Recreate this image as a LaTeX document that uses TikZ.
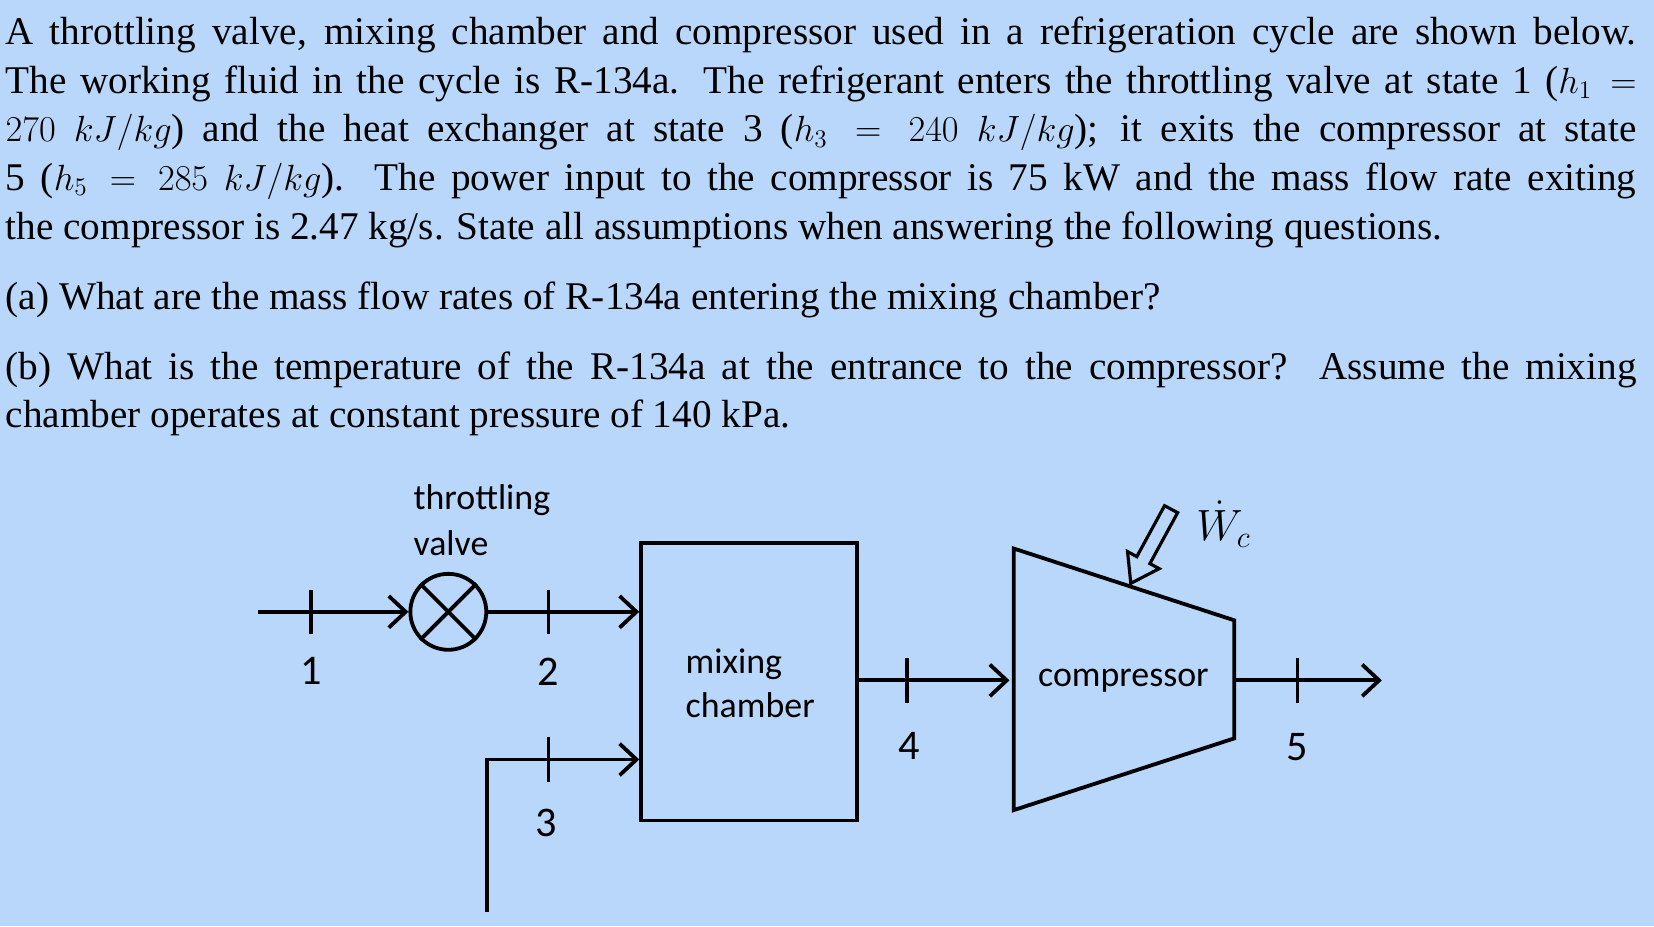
\documentclass[tikz,border=0pt]{standalone}
\usepackage{fontspec}
\setmainfont{Liberation Serif}
\newfontfamily\diagfont{Carlito}
\usetikzlibrary{arrows.meta}
\definecolor{bg}{RGB}{185,215,250}
\begin{document}
\begin{tikzpicture}[x=0.5pt,y=-0.5pt,
  ln/.style={line width=1.8pt},
  arr/.style={ln,-{Straight Barb[length=8pt,width=15pt,line width=1.8pt]}},
  lab/.style={font=\diagfont\fontsize{17}{20}\selectfont},
  num/.style={font=\diagfont\fontsize{20}{22}\selectfont},
  para/.style={anchor=north west,inner sep=0pt,text width=773pt,align=justify,font=\fontsize{18.6}{23}\selectfont}]
\fill[bg] (0,0) rectangle (1568,878);
\useasboundingbox (0,0) rectangle (1568,878);
\node[para] (p1) at (5,16) {A throttling valve, mixing chamber and compressor used in a refrigeration cycle are shown below.\linebreak The working fluid in the cycle is R-134a. The refrigerant enters the throttling valve at state 1 ($h_1 =$\linebreak $270\ kJ/kg$) and the heat exchanger at state 3 ($h_3 = 240\ kJ/kg$); it exits the compressor at state\linebreak 5 ($h_5 = 285\ kJ/kg$). The power input to the compressor is 75 kW and the mass flow rate exiting\linebreak the compressor is 2.47 kg/s. State all assumptions when answering the following questions.};
\node[para] (pa) at (5,267) {(a) What are the mass flow rates of R-134a entering the mixing chamber?};
\node[para] (pb) at (5,333) {(b) What is the temperature of the R-134a at the entrance to the compressor? Assume the mixing\linebreak chamber operates at constant pressure of 140 kPa.};
% valve
\node[draw,ln,circle,minimum size=36pt,inner sep=0pt] (v) at (425,580) {};
\draw[ln] (v.north east) -- (v.south west) (v.north west) -- (v.south east);
\node[lab,anchor=west,align=left] (vl) at (385,493) {throttling\\[2pt]valve};
% box
\node[draw,ln,minimum width=102.5pt,minimum height=131.5pt,anchor=north west] (mc) at (606,513) {};
\node[lab,anchor=west,align=left] (mct) at (643,648) {mixing\\[1pt]chamber};
% compressor
\coordinate (c1) at (961,520); \coordinate (c2) at (1170,588);
\coordinate (c3) at (1170,700); \coordinate (c4) at (961,768);
\draw[ln] (c1) -- (c2) -- (c3) -- (c4) -- cycle;
\node[lab] (ct) at (1065,645) {compressor};
% coordinates
\coordinate (s1) at (245,580);
\coordinate (e2) at (606,580);
\coordinate (s3) at (462,865);
\coordinate (k3) at (462,720);
\coordinate (e3) at (606,720);
\coordinate (s4) at (811,645);
\coordinate (e4) at (957,645);
\coordinate (s5) at (1170,645);
\coordinate (e5) at (1310,645);
\draw[arr] (s1) -- (v.west);
\draw[arr] (v.east) -- (e2);
\draw[arr] (s3) -- (k3) -- (e3);
\draw[arr] (s4) -- (e4);
\draw[arr] (s5) -- (e5);
% ticks
\foreach \x/\y in {295/580,520/580,520/720,860/645,1230/645}
  \draw[ln] (\x,\y-21) -- (\x,\y+21);
\node[num] (l1) at (295,636) {1};
\node[num] (l2) at (520,637) {2};
\node[num] (l3) at (518,780) {3};
\node[num] (l4) at (862,707) {4};
\node[num] (l5) at (1230,708) {5};
% work arrow
\draw[line width=1.5pt,fill=bg] (1072,553) -- (1098.9,539.1) -- (1090.1,534.3) -- (1116.4,486.0) -- (1104.0,479.4) -- (1077.7,527.7) -- (1068.9,522.9) -- cycle;
\node[font=\fontsize{20}{22}\selectfont] (w) at (1160,497) {$\dot{W}_c$};
\end{tikzpicture}
\end{document}
